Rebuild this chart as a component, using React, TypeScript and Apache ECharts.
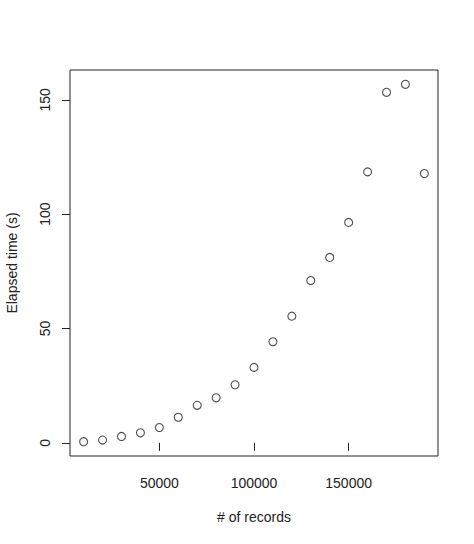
import React, { useEffect, useRef } from "react";
import * as echarts from "echarts";

const records = [10000, 20000, 30000, 40000, 50000, 60000, 70000, 80000, 90000, 100000, 110000, 120000, 130000, 140000, 150000, 160000, 170000, 180000, 190000];
const elapsed = [0.5, 1.2, 2.8, 4.4, 6.7, 11.2, 16.4, 19.7, 25.4, 33.0, 44.2, 55.4, 71.0, 81.1, 96.4, 118.5, 153.3, 156.8, 117.8];
const xTicks = [50000, 100000, 150000];
const yTicks = [0, 50, 100, 150];

const FONT = "'Liberation Sans', Arial, Helvetica, sans-serif";

export default function App() {
  const ref = useRef<HTMLDivElement>(null);
  useEffect(() => {
    if (!ref.current) return;
    const chart = echarts.init(ref.current, undefined, { renderer: "svg" });
    const xMin = Math.min(...records), xMax = Math.max(...records);
    const yMin = Math.min(...elapsed), yMax = Math.max(...elapsed);
    const xPad = (xMax - xMin) * 0.04, yPad = (yMax - yMin) * 0.04;
    chart.setOption({
      animation: false,
      backgroundColor: "#ffffff",
      grid: {
        left: 70, right: 36, top: 70, bottom: 88,
        show: true, borderColor: "#222", borderWidth: 1, backgroundColor: "transparent",
      },
      xAxis: {
        type: "value",
        min: xMin - xPad, max: xMax + xPad,
        splitLine: { show: false },
        axisLine: { show: false },
        axisTick: { show: true, inside: false, length: 8, lineStyle: { color: "#222" }, customValues: xTicks },
        axisLabel: { customValues: xTicks, margin: 20, fontFamily: FONT, fontSize: 14, color: "#222", formatter: (v: number) => String(v) },
      },
      yAxis: {
        type: "value",
        min: yMin - yPad, max: yMax + yPad,
        splitLine: { show: false },
        axisLine: { show: false },
        axisTick: { show: true, inside: false, length: 8, lineStyle: { color: "#222" }, customValues: yTicks },
        axisLabel: { customValues: yTicks, rotate: 90, margin: 18, fontFamily: FONT, fontSize: 14, color: "#222", formatter: (v: number) => String(v) },
      },
      graphic: [
        { type: "text", x: 254, y: 517, style: { text: "# of records", fontFamily: FONT, fontSize: 14, fill: "#222", textAlign: "center", textVerticalAlign: "middle" } },
        { type: "text", x: 12, y: 263, rotation: Math.PI / 2, style: { text: "Elapsed time (s)", fontFamily: FONT, fontSize: 14, fill: "#222", textAlign: "center", textVerticalAlign: "middle" } },
      ],
      series: [
        {
          type: "scatter",
          data: records.map((r, i) => [r, elapsed[i]]),
          symbol: "circle",
          symbolSize: 8,
          itemStyle: { color: "#ffffff", borderColor: "#222", borderWidth: 1.1 },
          emphasis: { disabled: true },
        },
      ],
    });
    return () => chart.dispose();
  }, []);
  return <div ref={ref} style={{ position: "fixed", left: 0, top: 0, width: 474, height: 544 }} />;
}
